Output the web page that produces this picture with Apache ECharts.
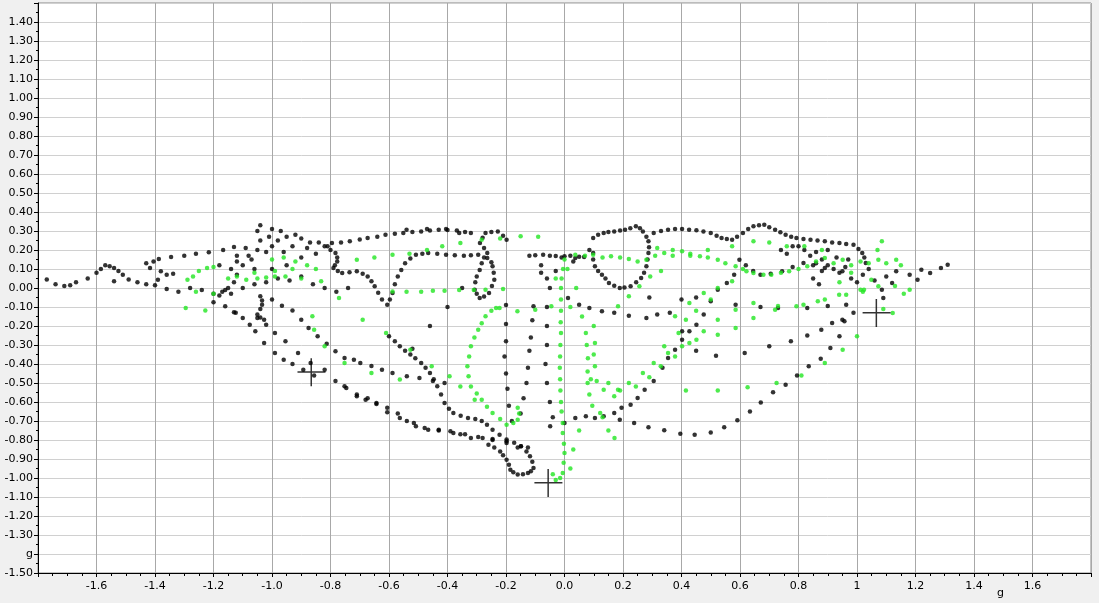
<!DOCTYPE html>
<html><head><meta charset="utf-8">
<script src="https://cdn.jsdelivr.net/npm/echarts@6/dist/echarts.min.js"></script>
<style>html,body{margin:0;padding:0;background:#f0f0f0}#c{width:1099px;height:603px}</style>
</head><body><div id="c"></div>
<script>
const xTicks=[-1.8,1.8,0.2];
const yTicks=[-1.5,1.5,0.1];
const blackLeftTail=[[-1.77,0.045],[-1.74,0.02],[-1.71,0.01],[-1.69,0.015],[-1.67,0.03],[-1.63,0.05],[-1.6,0.08],[-1.585,0.1],[-1.57,0.12],[-1.555,0.115],[-1.54,0.105],[-1.525,0.09],[-1.51,0.07],[-1.49,0.045],[-1.46,0.03],[-1.43,0.02],[-1.4,0.015],[-1.54,0.035]];
const blackLeftScatter=[[-1.43,0.13],[-1.405,0.14],[-1.387,0.153],[-1.345,0.163],[-1.3,0.17],[-1.26,0.18],[-1.216,0.188],[-1.167,0.2],[-1.13,0.216],[-1.417,0.105],[-1.38,0.088],[-1.36,0.07],[-1.338,0.075],[-1.39,0.044],[-1.36,-0.005],[-1.32,-0.02],[-1.28,0.0],[-1.24,-0.01],[-1.2,-0.075],[-1.16,-0.096],[-1.13,-0.128]];
const blackLeftCluster=[[-1.2,-0.03],[-1.17,-0.02],[-1.15,0.0],[-1.13,0.03],[-1.12,0.07],[-1.14,0.1],[-1.12,0.14],[-1.08,0.17],[-1.05,0.2],[-1.02,0.19],[-1.0,0.22],[-0.98,0.25],[-0.95,0.27],[-0.92,0.28],[-0.9,0.26],[-0.87,0.24],[-1.05,0.3],[-1.04,0.33],[-1.0,0.31],[-0.97,0.3],[-1.1,0.0],[-1.06,0.02],[-1.02,0.03],[-0.98,0.05],[-0.94,0.04],[-0.9,0.06],[-0.86,0.02],[-0.82,0.0],[-0.78,-0.02],[-0.74,0.0],[-1.18,0.12],[-1.1,0.12],[-1.06,0.1],[-1.0,0.1],[-0.95,0.12],[-0.9,0.16],[-0.85,0.18],[-1.16,-0.01],[-1.14,-0.03],[-1.18,-0.04],[-1.12,0.17],[-1.09,0.21],[-1.07,0.15],[-0.96,0.19],[-0.93,0.22],[-0.88,0.21],[-0.84,0.24],[-0.81,0.22],[-1.04,0.25],[-1.01,0.27]];
const blackLeftHook=[[-1.04,-0.044],[-1.034,-0.066],[-1.034,-0.088],[-1.04,-0.11],[-1.05,-0.14],[-1.04,-0.155],[-1.027,-0.167]];
const blackArcOuter=[[-1.124,-0.13],[-1.1,-0.158],[-1.076,-0.193],[-1.057,-0.228],[-1.027,-0.29],[-0.99,-0.342],[-0.96,-0.377],[-0.93,-0.4],[-0.893,-0.43],[-0.856,-0.46],[-0.783,-0.49],[-0.746,-0.526],[-0.71,-0.56],[-0.68,-0.588],[-0.643,-0.605],[-0.606,-0.63],[-0.57,-0.66],[-0.539,-0.7],[-0.508,-0.728],[-0.466,-0.746],[-0.43,-0.75],[-0.39,-0.754],[-0.356,-0.77],[-0.32,-0.79],[-0.28,-0.79],[-0.246,-0.8],[-0.198,-0.816],[-0.16,-0.84],[-0.125,-0.84]];
const blackArcInner=[[-1.05,-0.158],[-1.02,-0.193],[-0.99,-0.237],[-0.954,-0.28],[-0.911,-0.342],[-0.868,-0.395],[-0.82,-0.43],[-0.752,-0.517],[-0.71,-0.57],[-0.673,-0.58],[-0.643,-0.61],[-0.606,-0.654],[-0.563,-0.684],[-0.515,-0.71],[-0.478,-0.737],[-0.43,-0.746],[-0.38,-0.763],[-0.34,-0.77],[-0.295,-0.784],[-0.246,-0.795],[-0.198,-0.807],[-0.149,-0.833]];
const blackArcMid=[[-1.0,-0.06],[-0.966,-0.093],[-0.93,-0.118],[-0.9,-0.167],[-0.875,-0.21],[-0.844,-0.254],[-0.813,-0.293],[-0.783,-0.333],[-0.752,-0.368],[-0.72,-0.377],[-0.698,-0.395],[-0.66,-0.41],[-0.624,-0.43],[-0.588,-0.447],[-0.539,-0.465],[-0.496,-0.474],[-0.45,-0.49],[-0.41,-0.5]];
const blackSolidDown=[[-0.6,-0.254],[-0.58,-0.28],[-0.563,-0.307],[-0.545,-0.33],[-0.527,-0.35],[-0.51,-0.37],[-0.49,-0.395],[-0.475,-0.42],[-0.46,-0.447],[-0.447,-0.48],[-0.435,-0.517],[-0.422,-0.56],[-0.41,-0.605],[-0.395,-0.635],[-0.38,-0.658],[-0.355,-0.672],[-0.33,-0.684],[-0.305,-0.69],[-0.283,-0.7],[-0.265,-0.72],[-0.246,-0.746],[-0.222,-0.772],[-0.198,-0.798],[-0.172,-0.815],[-0.149,-0.833],[-0.13,-0.86],[-0.118,-0.886],[-0.11,-0.915],[-0.106,-0.947],[-0.115,-0.965],[-0.125,-0.974],[-0.142,-0.98],[-0.16,-0.982],[-0.175,-0.97],[-0.185,-0.956],[-0.19,-0.93],[-0.198,-0.904],[-0.21,-0.88],[-0.22,-0.86],[-0.24,-0.84],[-0.26,-0.825]];
const blackTopLeft=[[-0.795,0.237],[-0.764,0.24],[-0.734,0.246],[-0.7,0.255],[-0.673,0.263],[-0.64,0.27],[-0.612,0.28],[-0.58,0.285],[-0.551,0.29],[-0.52,0.295],[-0.49,0.298],[-0.46,0.302],[-0.43,0.307],[-0.4,0.305],[-0.368,0.302],[-0.34,0.295],[-0.32,0.29],[-0.54,0.307],[-0.47,0.31],[-0.405,0.31],[-0.36,0.29]];
const blackWiggle=[[-0.82,0.22],[-0.8,0.2],[-0.783,0.184],[-0.777,0.16],[-0.777,0.14],[-0.785,0.12],[-0.79,0.105],[-0.775,0.09],[-0.76,0.079],[-0.735,0.083],[-0.71,0.088],[-0.69,0.075],[-0.673,0.061],[-0.66,0.035],[-0.649,0.009],[-0.637,-0.025],[-0.624,-0.061],[-0.606,-0.088],[-0.597,-0.06],[-0.588,-0.026],[-0.58,0.02],[-0.57,0.061],[-0.558,0.095],[-0.545,0.13],[-0.527,0.155],[-0.508,0.175],[-0.486,0.18],[-0.466,0.184],[-0.435,0.18],[-0.405,0.175],[-0.375,0.172],[-0.344,0.17],[-0.32,0.172],[-0.295,0.175],[-0.264,0.158],[-0.25,0.135],[-0.246,0.114],[-0.242,0.08],[-0.24,0.044],[-0.248,0.01],[-0.258,-0.026],[-0.275,-0.045],[-0.29,-0.053],[-0.3,-0.03],[-0.307,-0.009],[-0.305,0.03],[-0.3,0.061],[-0.29,0.095],[-0.283,0.13],[-0.275,0.16],[-0.264,0.184],[-0.275,0.21],[-0.289,0.237],[-0.28,0.265],[-0.27,0.29],[-0.25,0.295],[-0.228,0.298],[-0.21,0.275],[-0.198,0.254]];
const blackCenterTop=[[-0.12,0.17],[-0.1,0.172],[-0.073,0.175],[-0.05,0.17],[-0.03,0.168],[-0.01,0.16],[0.0,0.167],[0.02,0.17],[0.037,0.158],[0.05,0.165],[0.067,0.163],[0.085,0.2],[0.098,0.263],[0.115,0.28],[0.134,0.29],[0.15,0.295],[0.17,0.298],[0.19,0.302],[0.207,0.307],[0.225,0.315],[0.244,0.325],[0.258,0.315],[0.268,0.298],[0.28,0.27],[0.287,0.246],[0.289,0.215],[0.287,0.184],[0.284,0.15],[0.28,0.114],[0.272,0.08],[0.262,0.053],[0.245,0.03],[0.226,0.009],[0.205,0.002],[0.189,0.0],[0.17,0.012],[0.152,0.026],[0.14,0.05],[0.128,0.07],[0.115,0.09],[0.104,0.114],[0.098,0.15],[0.098,0.184],[-0.08,0.12],[-0.08,0.08],[-0.06,0.05],[-0.03,0.09],[0.03,0.14]];
const blackTopRight=[[0.305,0.29],[0.33,0.3],[0.354,0.307],[0.378,0.31],[0.402,0.31],[0.426,0.307],[0.451,0.304],[0.475,0.297],[0.5,0.29],[0.52,0.275],[0.537,0.263],[0.555,0.258],[0.573,0.254],[0.59,0.27],[0.61,0.29],[0.628,0.31],[0.646,0.325],[0.665,0.33],[0.683,0.333],[0.7,0.32],[0.72,0.307],[0.738,0.293],[0.756,0.28],[0.775,0.27],[0.793,0.263],[0.817,0.258],[0.841,0.254],[0.865,0.25],[0.89,0.246],[0.915,0.24],[0.94,0.237],[0.963,0.232],[0.988,0.228],[1.005,0.205],[1.018,0.184],[1.025,0.16],[1.03,0.132]];
const blackRightMid=[[0.598,0.149],[0.62,0.12],[0.645,0.09],[0.67,0.07],[0.705,0.075],[0.744,0.088],[0.78,0.11],[0.817,0.132],[0.85,0.12],[0.89,0.105],[0.95,0.088],[0.8,0.22],[0.82,0.2],[0.84,0.17],[0.86,0.13],[0.88,0.15],[0.9,0.12],[0.92,0.1],[0.94,0.08],[0.96,0.11],[0.98,0.05],[1.0,0.03],[1.02,0.07],[0.88,0.09],[0.86,0.19],[0.78,0.22],[0.74,0.2],[0.76,0.18],[0.9,0.2],[0.93,0.16],[0.97,0.15],[1.04,0.1],[0.85,0.05],[0.87,0.02]];
const blackRightTail=[[1.134,0.088],[1.18,0.07],[1.22,0.096],[1.25,0.079],[1.287,0.105],[1.31,0.123],[1.207,0.044],[1.12,0.026],[1.085,-0.009],[1.09,-0.053],[1.06,0.04],[1.1,0.06]];
const blackMidRight=[[0.012,-0.053],[0.05,-0.088],[0.085,-0.105],[0.128,-0.123],[0.17,-0.13],[0.22,-0.146],[0.28,-0.158],[0.317,-0.14],[0.36,-0.13],[0.585,-0.088],[0.67,-0.1],[0.73,-0.105],[0.83,-0.105],[0.9,-0.095],[0.963,-0.088],[0.988,-0.13],[0.95,-0.167],[0.915,-0.184],[0.878,-0.22],[0.83,-0.25],[0.774,-0.28],[0.7,-0.307],[0.616,-0.342],[0.518,-0.356],[0.45,-0.33],[0.402,-0.228],[0.29,-0.05],[0.4,-0.06],[0.45,-0.05]];
const blackLowerRight=[[-0.049,-0.728],[0.0,-0.71],[0.037,-0.684],[0.073,-0.675],[0.104,-0.684],[0.134,-0.675],[0.17,-0.658],[0.195,-0.63],[0.226,-0.614],[0.25,-0.579],[0.274,-0.535],[0.305,-0.49],[0.335,-0.42],[0.354,-0.368],[0.378,-0.325],[0.402,-0.272],[0.427,-0.228],[0.451,-0.193],[0.476,-0.14],[0.5,-0.07],[0.524,-0.009],[0.555,0.026],[0.58,0.07]];
const blackBottomArc=[[0.189,-0.693],[0.238,-0.71],[0.287,-0.733],[0.341,-0.749],[0.396,-0.767],[0.445,-0.772],[0.5,-0.76],[0.546,-0.733],[0.591,-0.696],[0.634,-0.65],[0.671,-0.602],[0.713,-0.549],[0.756,-0.509],[0.795,-0.46],[0.835,-0.412],[0.876,-0.372],[0.909,-0.316],[0.94,-0.254],[0.957,-0.175]];
const blackColumns=[[-0.106,-0.096],[-0.11,-0.17],[-0.115,-0.26],[-0.12,-0.33],[-0.125,-0.42],[-0.13,-0.5],[-0.14,-0.58],[-0.15,-0.66],[-0.2,-0.09],[-0.2,-0.19],[-0.2,-0.28],[-0.205,-0.36],[-0.2,-0.45],[-0.195,-0.53],[-0.19,-0.62],[-0.18,-0.7],[-0.05,0.0],[-0.06,-0.1],[-0.06,-0.2],[-0.06,-0.3],[-0.065,-0.4],[-0.06,-0.5],[-0.05,-0.6],[-0.04,-0.68],[-0.35,0.0],[-0.4,-0.1],[-0.46,-0.2],[-0.52,-0.32]];
const greenLeft=[[-1.289,0.044],[-1.27,0.06],[-1.25,0.09],[-1.222,0.105],[-1.2,0.11],[-1.295,-0.105],[-1.228,-0.118],[-1.26,-0.02],[-1.088,0.044],[-1.05,0.05],[-1.02,0.055],[-0.99,0.06],[-0.954,0.061],[-0.93,0.1],[-0.9,0.05],[-0.832,0.035],[-0.771,-0.053],[-1.15,0.05],[-1.12,0.06],[-1.0,0.15],[-0.96,0.16],[-0.92,0.14],[-0.88,0.12],[-0.85,0.1],[-1.06,0.08],[-0.99,0.09],[-1.2,-0.03]];
const greenLeftDiag=[[-0.862,-0.149],[-0.856,-0.22],[-0.82,-0.307],[-0.752,-0.395],[-0.66,-0.447],[-0.563,-0.482],[-0.69,-0.167],[-0.61,-0.237],[-0.527,-0.325],[-0.454,-0.412],[-0.393,-0.465],[-0.356,-0.518],[-0.307,-0.588]];
const greenTopLeft=[[-0.71,0.149],[-0.65,0.16],[-0.588,0.175],[-0.53,0.18],[-0.47,0.2],[-0.418,0.22],[-0.356,0.237],[-0.283,0.254],[-0.22,0.26],[-0.15,0.272],[-0.09,0.27],[-0.588,-0.018],[-0.54,-0.02],[-0.49,-0.02],[-0.45,-0.015],[-0.41,-0.015],[-0.36,-0.01],[-0.31,-0.01],[-0.27,-0.009],[-0.21,-0.005]];
const greenCenterLeft=[[-0.045,-0.096],[-0.1,-0.114],[-0.161,-0.123],[-0.222,-0.105],[-0.234,-0.105],[-0.25,-0.12],[-0.27,-0.149],[-0.283,-0.185],[-0.295,-0.22],[-0.308,-0.26],[-0.32,-0.307],[-0.326,-0.36],[-0.332,-0.412],[-0.328,-0.465],[-0.32,-0.518],[-0.3,-0.555],[-0.283,-0.588],[-0.265,-0.625],[-0.246,-0.658],[-0.22,-0.69],[-0.198,-0.72],[-0.175,-0.71],[-0.16,-0.693],[-0.155,-0.66],[-0.16,-0.63]];
const greenVertical=[[0.0,0.15],[-0.005,0.1],[-0.01,0.05],[-0.012,0.0],[-0.012,-0.061],[-0.012,-0.12],[-0.013,-0.18],[-0.012,-0.237],[-0.014,-0.3],[-0.015,-0.36],[-0.016,-0.42],[-0.015,-0.48],[-0.014,-0.54],[-0.012,-0.6],[-0.01,-0.65],[-0.006,-0.71],[-0.006,-0.763],[-0.002,-0.82],[0.0,-0.868],[-0.003,-0.92],[-0.006,-0.974],[-0.015,-1.0],[-0.03,-1.01],[-0.04,-0.98],[0.02,-0.1],[0.04,0.0],[0.01,0.1],[-0.03,0.05]];
const greenMainBand=[[0.037,0.175],[0.098,0.175],[0.159,0.167],[0.22,0.153],[0.28,0.149],[0.341,0.184],[0.402,0.193],[0.463,0.167],[0.524,0.149],[0.585,0.114],[0.646,0.079],[0.707,0.07],[0.768,0.088],[0.83,0.114],[0.89,0.158],[0.951,0.149],[1.012,0.14],[1.073,0.149],[1.134,0.149],[1.15,0.12],[1.085,0.246],[1.07,0.2],[1.049,0.044],[1.13,0.01],[1.18,-0.009],[1.16,-0.03],[1.122,-0.132],[1.09,-0.11],[0.317,0.21],[0.37,0.2],[0.43,0.18],[0.49,0.2],[0.573,0.22],[0.646,0.246],[0.7,0.24],[0.76,0.22],[0.82,0.22],[0.88,0.2],[0.07,0.17],[0.13,0.16],[0.19,0.16],[0.25,0.14],[0.31,0.17],[0.37,0.17],[0.43,0.17],[0.49,0.16],[0.55,0.13],[0.61,0.1],[0.68,0.07],[0.74,0.08],[0.8,0.1],[0.86,0.14],[0.92,0.13],[0.98,0.12],[1.04,0.13],[1.1,0.13],[0.94,0.03],[0.98,0.08],[1.02,-0.02]];
const greenArcA=[[0.122,-0.658],[0.17,-0.57],[0.22,-0.5],[0.268,-0.447],[0.305,-0.395],[0.354,-0.342],[0.402,-0.307],[0.451,-0.272],[0.524,-0.246],[0.585,-0.21],[0.646,-0.158],[0.72,-0.114],[0.793,-0.096],[0.866,-0.07],[0.939,-0.035],[1.012,-0.009],[1.073,0.009]];
const greenArcB=[[0.134,-0.535],[0.19,-0.54],[0.244,-0.518],[0.29,-0.47],[0.329,-0.412],[0.378,-0.36],[0.427,-0.29],[0.476,-0.228],[0.524,-0.167],[0.585,-0.114],[0.646,-0.079],[0.73,-0.095],[0.817,-0.088],[0.89,-0.061],[0.963,-0.035],[1.024,-0.009]];
const greenArcC=[[0.183,-0.096],[0.22,-0.044],[0.256,0.009],[0.293,0.061],[0.33,0.09],[0.378,-0.149],[0.427,-0.079],[0.476,-0.026],[0.524,0.0],[0.573,0.035],[0.622,0.088],[0.341,-0.307],[0.39,-0.237],[0.415,-0.167],[0.45,-0.12],[0.5,-0.06]];
const greenColumn=[[0.073,-0.237],[0.076,-0.3],[0.08,-0.37],[0.079,-0.44],[0.079,-0.5],[0.085,-0.56],[0.095,-0.62],[0.13,-0.68],[0.171,-0.79],[0.15,-0.75],[0.06,-0.15],[0.1,-0.2],[0.104,-0.29],[0.1,-0.35],[0.104,-0.412],[0.09,-0.48],[0.11,-0.49],[0.15,-0.5],[0.183,-0.535],[0.415,-0.539],[0.524,-0.539],[0.626,-0.523],[0.725,-0.5],[0.81,-0.46],[0.89,-0.395],[0.951,-0.325],[1.0,-0.254],[0.05,-0.75],[0.03,-0.85],[0.02,-0.95]];
const crossPoints=[[-0.865,-0.444],[-0.055,-1.026],[1.067,-0.132]];

const black=[].concat(blackLeftTail,blackLeftScatter,blackLeftCluster,blackLeftHook,blackArcOuter,blackArcInner,blackArcMid,blackSolidDown,blackTopLeft,blackWiggle,blackCenterTop,blackTopRight,blackRightMid,blackRightTail,blackMidRight,blackLowerRight,blackBottomArc,blackColumns);
const green=[].concat(greenLeft,greenLeftDiag,greenTopLeft,greenCenterLeft,greenVertical,greenMainBand,greenArcA,greenArcB,greenArcC,greenColumn);

const chart=echarts.init(document.getElementById('c'));
const lbl={color:'#000',fontSize:11,fontFamily:'DejaVu Sans'};
chart.setOption({
  animation:false,
  backgroundColor:'#f0f0f0',
  grid:{left:38,right:8,top:3,bottom:30,show:true,backgroundColor:'#fff',borderColor:'#888'},
  graphic:[{type:'text',left:997,top:588,style:{text:'g',fill:'#000',font:'11px DejaVu Sans'}}],
  xAxis:{type:'value',min:xTicks[0],max:xTicks[1],interval:xTicks[2],
    axisLine:{onZero:false,lineStyle:{color:'#000'}},axisTick:{show:true,lineStyle:{color:'#000'},length:4},
    minorTick:{show:true,splitNumber:4,length:3,lineStyle:{color:'#000'}},
    axisLabel:Object.assign({formatter:v=>{const r=Math.round(v*10)/10;if(Math.abs(r+1.8)<1e-6||Math.abs(r-1.8)<1e-6)return '';if(Math.abs(r-1)<1e-6)return '1';return r.toFixed(1);},margin:8},lbl),
    splitLine:{show:true,lineStyle:{color:'#a8a8a8'}}},
  yAxis:{type:'value',min:yTicks[0],max:yTicks[1],interval:yTicks[2],
    axisLine:{onZero:false,lineStyle:{color:'#000'}},axisTick:{show:true,lineStyle:{color:'#000'},length:4},
    minorTick:{show:true,splitNumber:2,length:2,lineStyle:{color:'#000'}},
    axisLabel:Object.assign({formatter:v=>{const r=Math.round(v*100)/100;if(Math.abs(r+1.4)<1e-6)return 'g';if(r>1.41)return '';return r.toFixed(2);},margin:5},lbl),
    splitLine:{show:true,lineStyle:{color:'#d0d0d0'}}},
  series:[
    {type:'scatter',data:black,symbolSize:4.5,itemStyle:{color:'#000'},z:2},
    {type:'scatter',data:green,symbolSize:4.5,itemStyle:{color:'#22e622'},z:3},
    {type:'scatter',data:crossPoints,symbol:'path://M0,13h28v1.5h-28z M13,0h1.5v28h-1.5z',symbolSize:28,itemStyle:{color:'#000'},z:4}
  ]
});
</script></body></html>
